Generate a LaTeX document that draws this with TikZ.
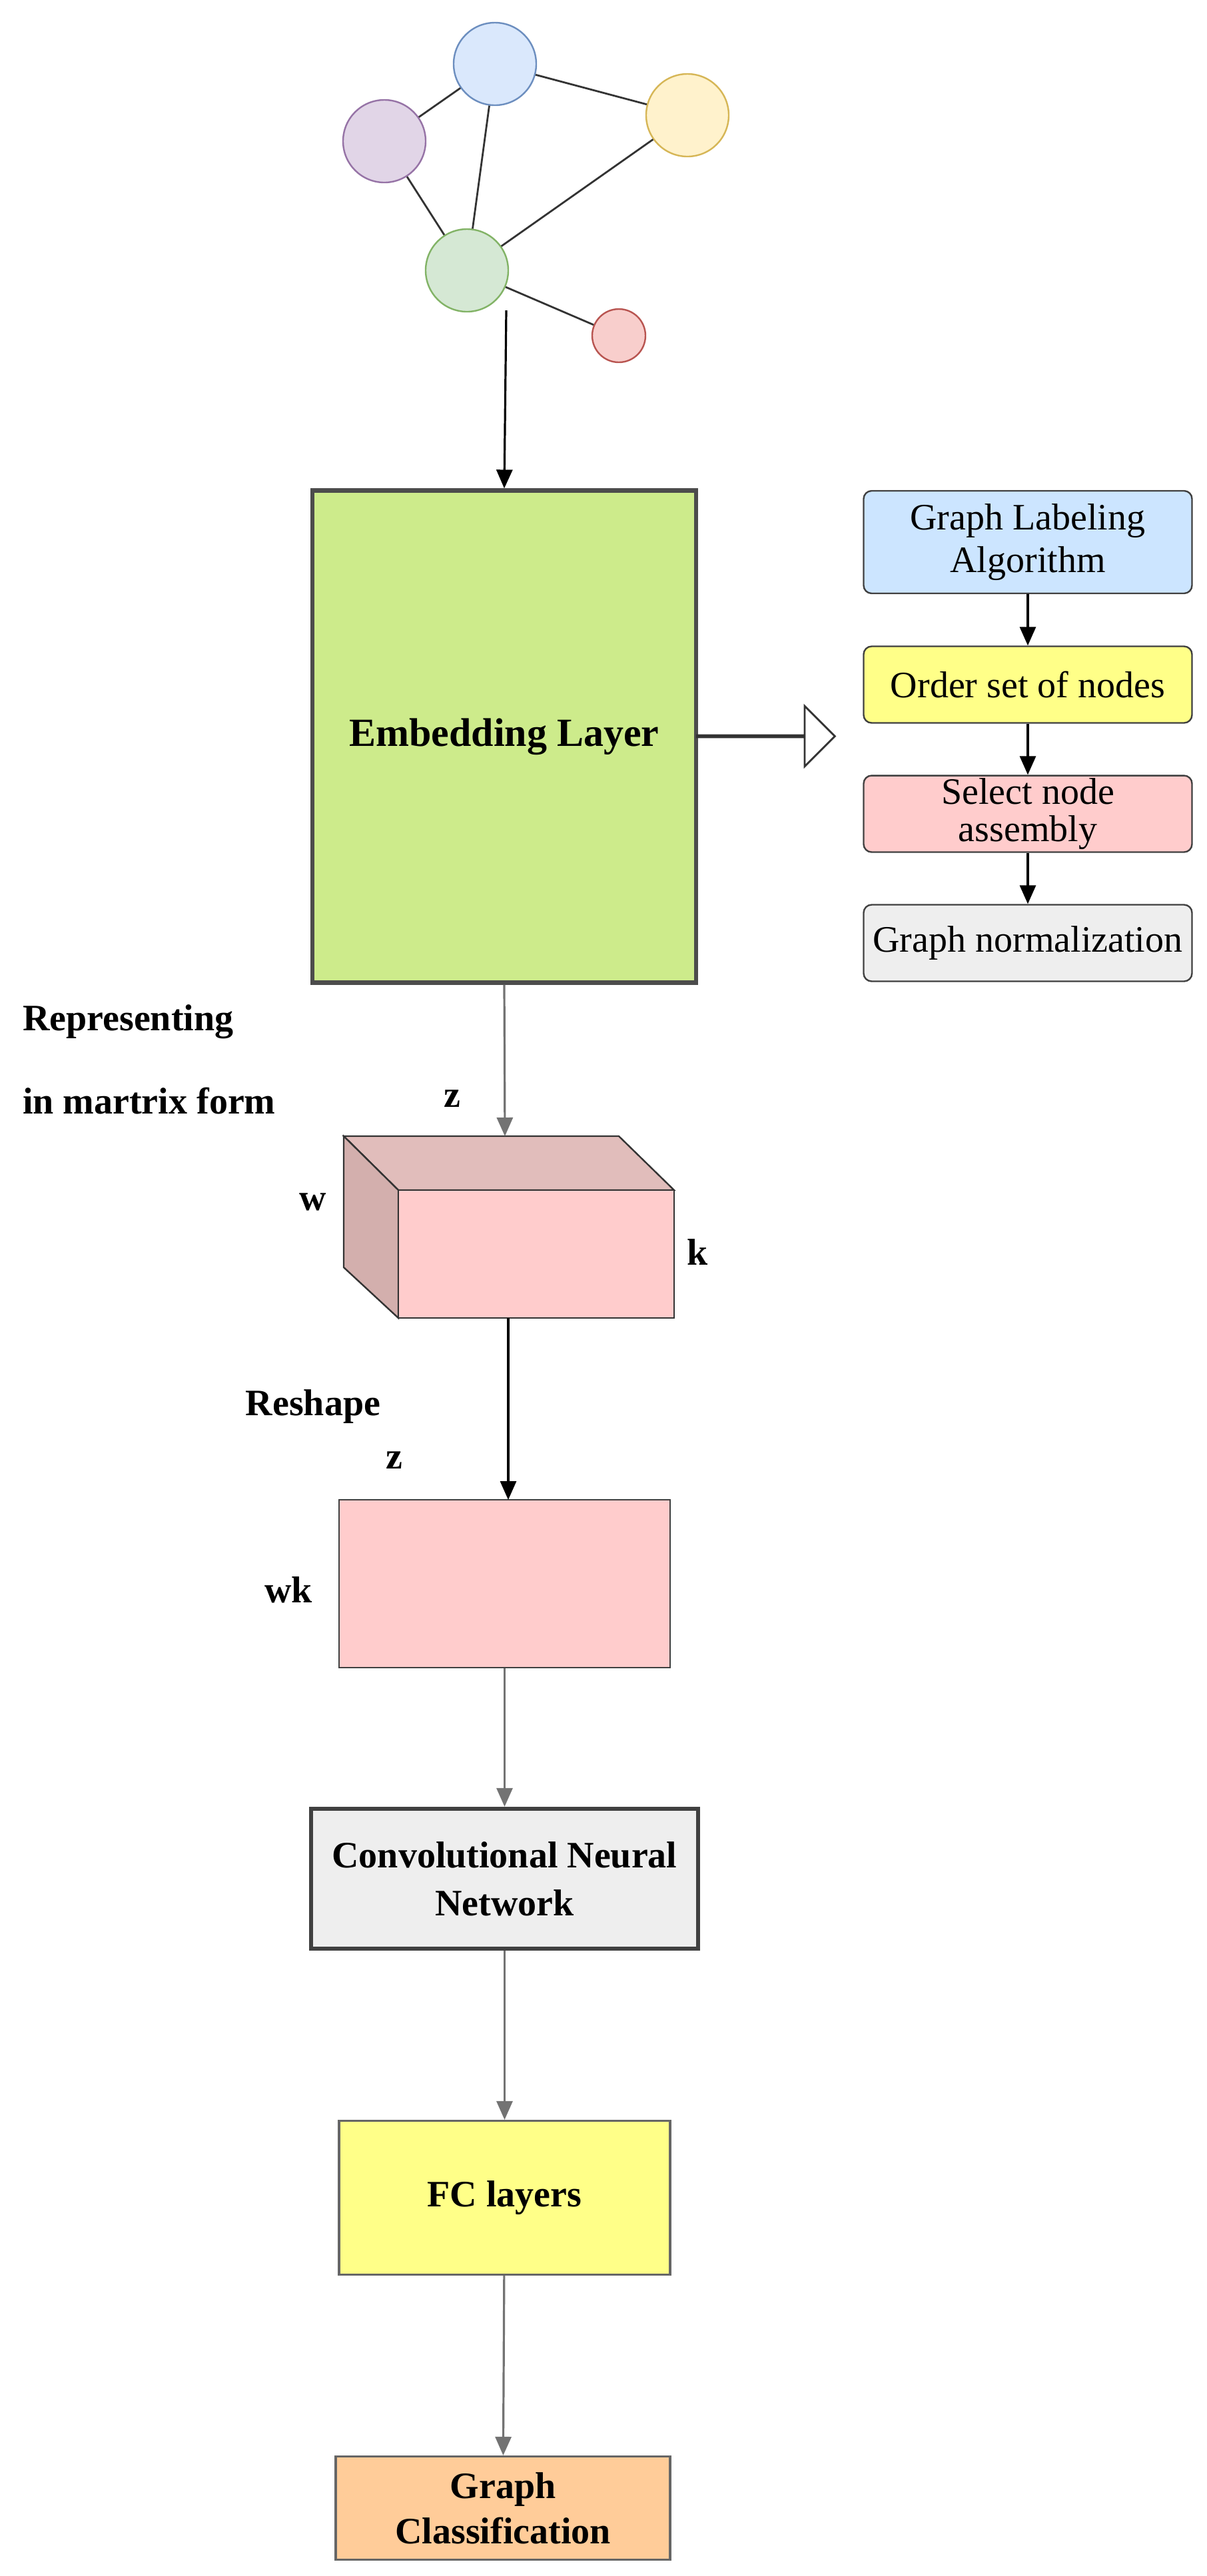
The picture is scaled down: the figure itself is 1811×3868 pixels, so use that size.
\documentclass[tikz,border=0pt]{standalone}
\usepackage{fontspec}
\setmainfont{Liberation Serif}
\usetikzlibrary{arrows.meta,shapes.arrows}
\definecolor{bluef}{HTML}{DAE8FC}\definecolor{bluel}{HTML}{6C8EBF}
\definecolor{purf}{HTML}{E1D5E7}\definecolor{purl}{HTML}{9673A6}
\definecolor{yelf}{HTML}{FFF2CC}\definecolor{yell}{HTML}{D6B656}
\definecolor{grnf}{HTML}{D5E8D4}\definecolor{grnl}{HTML}{82B366}
\definecolor{redf}{HTML}{F8CECC}\definecolor{redl}{HTML}{B85450}
\definecolor{embf}{HTML}{CDEB8B}\definecolor{pinkf}{HTML}{FFCCCC}
\definecolor{lblue}{HTML}{CCE5FF}\definecolor{lyel}{HTML}{FFFF88}
\definecolor{lgray}{HTML}{EEEEEE}\definecolor{orf}{HTML}{FFCC99}
\begin{document}
\begin{tikzpicture}[x=0.25pt,y=-0.25pt,
  gn/.style={circle,draw=#1l,fill=#1f,line width=0.6pt,minimum size=31pt,inner sep=0},
  edge/.style={line width=0.7pt,black!80},
  arr/.style={line width=0.8pt,-{Triangle[length=7pt,width=6pt]}},
  garr/.style={arr,draw=black!55},
  rbox/.style={draw=black!75,rounded corners=3pt,line width=0.6pt,minimum width=123.25pt,align=center,font=\fontsize{14}{16}\selectfont,inner sep=1pt},
  bt/.style={font=\bfseries\fontsize{14}{17}\selectfont,align=center},
  lbl/.style={font=\bfseries\fontsize{14}{17}\selectfont}]
\useasboundingbox (0,0) rectangle (1811,3868);
% graph
\node[gn=blue] (b) at (743,96) {};
\node[gn=pur] (p) at (577,212) {};
\node[gn=yel] (y) at (1032,173) {};
\node[gn=grn] (g) at (701,406) {};
\node[gn=red,minimum size=20pt] (r) at (929,504) {};
\draw[edge] (b)--(p) (b)--(y) (b)--(g) (p)--(g) (y)--(g) (g)--(r);
% embedding
\node[draw=black!70,fill=embf,line width=1.6pt,minimum width=144pt,minimum height=184.75pt,bt,font=\bfseries\fontsize{15}{18}\selectfont] (emb) at (757,1106) {Embedding Layer};
\coordinate (gtop) at (760,466);
\draw[arr] (gtop) -- (emb.north);
% right column
\node[rbox,fill=lblue,minimum height=38.5pt] (r1) at (1543,814) {Graph Labeling\\Algorithm};
\node[rbox,fill=lyel,minimum height=28.75pt] (r2) at (1543,1028) {Order set of nodes};
\node[rbox,fill=pinkf,minimum height=28.5pt] (r3) at (1543,1222) {Select node\\[-2pt]assembly};
\node[rbox,fill=lgray,minimum height=28.75pt] (r4) at (1543,1416) {Graph normalization};
\draw[arr] (r1)--(r2); \draw[arr] (r2)--(r3); \draw[arr] (r3)--(r4);
% hollow arrow
\node[single arrow,draw=black!80,fill=white,line width=0.7pt,minimum height=51.75pt,single arrow head extend=11pt,minimum width=9.25pt,inner sep=0,single arrow tip angle=90,anchor=tail] (ha) at (1045,1105.5) {};
% labels
\node[lbl,anchor=west] (t1) at (20,1534) {Representing};
\node[lbl,anchor=west] (t2) at (20,1653) {in martrix form};
\node[lbl] (z1) at (679,1650) {z};
% cuboid
\coordinate (c1) at (516,1706); \coordinate (c2) at (929,1706);
\coordinate (c3) at (1012,1787); \coordinate (c4) at (598,1787);
\coordinate (c5) at (598,1979); \coordinate (c6) at (516,1903);
\coordinate (c7) at (1012,1979);
\draw[fill=redf!90!black!95,line width=0.6pt,draw=black!80] (c1)--(c2)--(c3)--(c4)--cycle;
\draw[fill=redf!85!black,line width=0.6pt,draw=black!80] (c1)--(c4)--(c5)--(c6)--cycle;
\draw[fill=pinkf,line width=0.6pt,draw=black!80] (c4)--(c3)--(c7)--(c5)--cycle;
\coordinate (ctop) at (758,1706); \coordinate (cbot) at (763,1979);
\draw[garr] (emb.south) -- (ctop);
\node[lbl] (w) at (470,1805) {w};
\node[lbl] (k) at (1047,1880) {k};
\node[lbl] (rs) at (470,2112) {Reshape};
\node[lbl] (z2) at (592,2193) {z};
% reshaped
\node[draw=black!75,fill=pinkf,line width=0.6pt,minimum width=124.25pt,minimum height=63pt] (m) at (757.5,2378) {};
\draw[arr] (cbot) -- (763,2252);
\node[lbl] (wk) at (433,2387) {wk};
\node[draw=black!75,fill=lgray,line width=1.6pt,minimum width=145.25pt,minimum height=52.5pt,bt,font=\bfseries\fontsize{14}{18}\selectfont] (cnn) at (757.5,2821) {Convolutional Neural\\Network};
\node[draw=black!60,fill=lyel,line width=0.8pt,minimum width=124.25pt,minimum height=57.75pt,bt] (fc) at (757.5,3300) {FC layers};
\node[draw=black!60,fill=orf,line width=0.8pt,minimum width=125.5pt,minimum height=38.75pt,bt,font=\bfseries\fontsize{14}{17}\selectfont] (gc) at (755,3766) {Graph\\Classification};
\draw[garr] (m) -- (cnn);
\draw[garr] (cnn) -- (fc);
\draw[garr] (fc) -- (gc);
\end{tikzpicture}
\end{document}
